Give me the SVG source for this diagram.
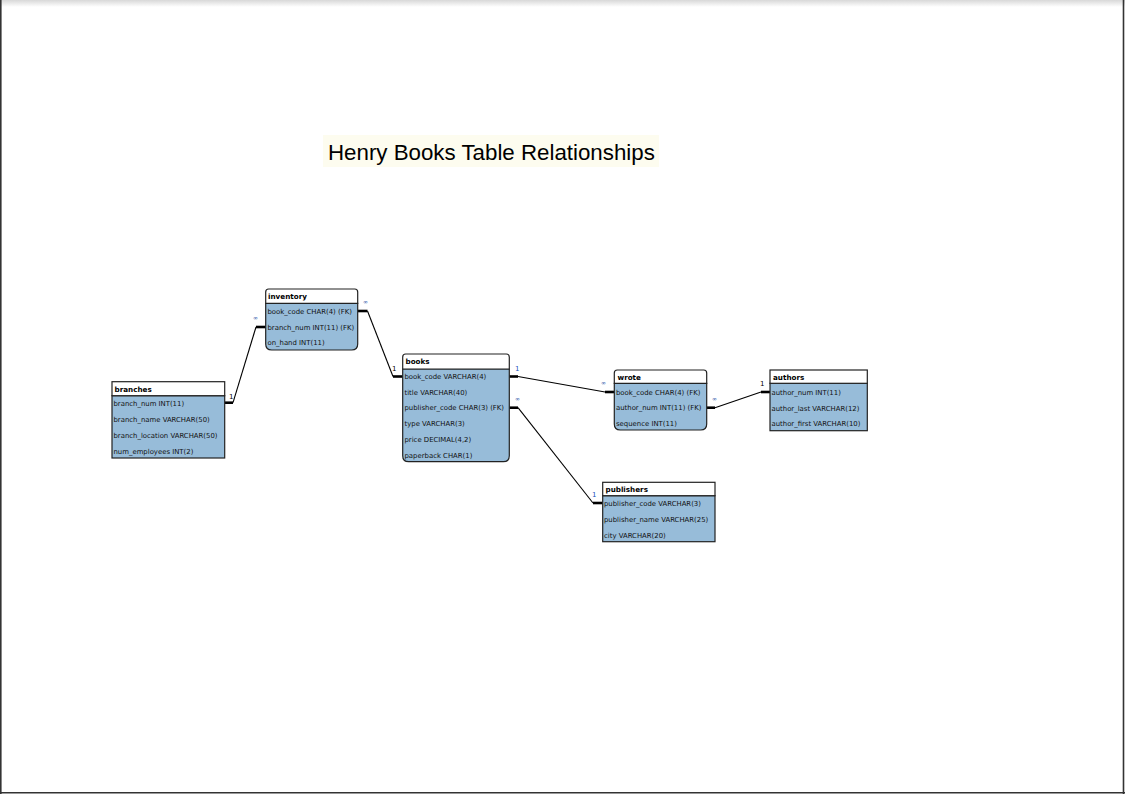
<svg xmlns="http://www.w3.org/2000/svg" width="1125" height="794" viewBox="0 0 1125 794">
<defs>
<linearGradient id="topShadow" x1="0" y1="0" x2="0" y2="1">
<stop offset="0" stop-color="#d8d8d8"/>
<stop offset="1" stop-color="#ffffff"/>
</linearGradient>
<style>
.body{fill:#97bcd9;stroke:#222;stroke-width:1.2}
.head{fill:#fff;stroke:#222;stroke-width:1.2}
.ht{font-family:"DejaVu Sans","Liberation Sans",sans-serif;font-size:7.2px;font-weight:bold;fill:#000}
.rt{font-family:"DejaVu Sans","Liberation Sans",sans-serif;font-size:6.9px;fill:#111}
.stub{stroke:#000;stroke-width:2.6;fill:none}
.ln{stroke:#000;stroke-width:1.1;fill:none}
.card{font-family:"DejaVu Sans","Liberation Sans",sans-serif;font-size:7px;fill:#000}
.cb{fill:#2255bb}
.inf{font-family:"DejaVu Sans","Liberation Sans",sans-serif;font-size:6px;fill:#3355aa}
</style>
</defs>
<rect x="0" y="0" width="1125" height="794" fill="#fff"/>
<rect x="0" y="0" width="1125" height="7" fill="url(#topShadow)"/>
<line x1="0.8" y1="0" x2="0.8" y2="794" stroke="#333" stroke-width="1.6"/>
<line x1="1123.5" y1="0" x2="1123.5" y2="794" stroke="#333" stroke-width="1.6"/>
<line x1="0" y1="792.7" x2="1125" y2="792.7" stroke="#333" stroke-width="1.6"/>

<g id="title">
<rect x="323" y="135" width="336" height="32" fill="#fdfcef"/>
<text x="328" y="160" font-family="Liberation Sans, Arial, sans-serif" font-size="22.3" fill="#000">Henry Books Table Relationships</text>
</g>

<g id="connectors">
<polyline class="stub" points="224.7,402.7 233,402.7"/>
<polyline class="ln" points="233,402.7 256,327"/>
<polyline class="stub" points="256,327 265.7,327"/>
<text class="card" x="229" y="399">1</text>
<text class="inf" x="253" y="320">∞</text>

<polyline class="stub" points="357.7,311 367.5,311"/>
<polyline class="ln" points="367.5,311 393,376.5"/>
<polyline class="stub" points="393,376.5 402.7,376.5"/>
<text class="inf" x="363" y="304">∞</text>
<text class="card" x="392" y="371">1</text>

<polyline class="stub" points="509.3,376.5 518,376.5"/>
<polyline class="ln" points="518,376.5 605,392"/>
<polyline class="stub" points="605,392 614.3,392"/>
<text class="card cb" x="515" y="371">1</text>
<text class="inf" x="601" y="385">∞</text>

<polyline class="stub" points="509.3,407.7 518,407.7"/>
<polyline class="ln" points="518,407.7 593,503"/>
<polyline class="stub" points="593,503 602.7,503"/>
<text class="inf" x="515" y="401">∞</text>
<text class="card cb" x="592" y="497">1</text>

<polyline class="stub" points="706.7,407.7 715,407.7"/>
<polyline class="ln" points="715,407.7 761,392"/>
<polyline class="stub" points="761,392 770,392"/>
<text class="inf" x="712" y="401">∞</text>
<text class="card" x="760" y="386">1</text>
</g>

<g id="inventory">
<path class="body" d="M265.7,303.3 H357.7 V344 Q357.7,350 351.7,350 H271.7 Q265.7,350 265.7,344 Z"/>
<path class="head" d="M265.7,303.3 V292 Q265.7,289 268.7,289 H354.7 Q357.7,289 357.7,292 V303.3 Z"/>
<text class="ht" x="268" y="299">inventory</text>
<text class="rt" x="267.5" y="314">book_code CHAR(4) (FK)</text>
<text class="rt" x="267.5" y="330">branch_num INT(11) (FK)</text>
<text class="rt" x="267.5" y="345">on_hand INT(11)</text>
</g>

<g id="branches">
<rect class="body" x="112" y="395.7" width="112.7" height="62.3"/>
<rect class="head" x="112" y="381.7" width="112.7" height="14"/>
<text class="ht" x="114.5" y="391.5">branches</text>
<text class="rt" x="113.5" y="405.5">branch_num INT(11)</text>
<text class="rt" x="113.5" y="421.5">branch_name VARCHAR(50)</text>
<text class="rt" x="113.5" y="437.5">branch_location VARCHAR(50)</text>
<text class="rt" x="113.5" y="453.5">num_employees INT(2)</text>
</g>

<g id="books">
<path class="body" d="M402.7,369 H509.3 V455.7 Q509.3,461.7 503.3,461.7 H408.7 Q402.7,461.7 402.7,455.7 Z"/>
<path class="head" d="M402.7,369 V357 Q402.7,354 405.7,354 H506.3 Q509.3,354 509.3,357 V369 Z"/>
<text class="ht" x="405.5" y="364">books</text>
<text class="rt" x="404.5" y="379">book_code VARCHAR(4)</text>
<text class="rt" x="404.5" y="394.5">title VARCHAR(40)</text>
<text class="rt" x="404.5" y="410">publisher_code CHAR(3) (FK)</text>
<text class="rt" x="404.5" y="425.7">type VARCHAR(3)</text>
<text class="rt" x="404.5" y="441.5">price DECIMAL(4,2)</text>
<text class="rt" x="404.5" y="457.5">paperback CHAR(1)</text>
</g>

<g id="wrote">
<path class="body" d="M614.3,383.3 H706.7 V424 Q706.7,430 700.7,430 H620.3 Q614.3,430 614.3,424 Z"/>
<path class="head" d="M614.3,383.3 V373 Q614.3,370 617.3,370 H703.7 Q706.7,370 706.7,373 V383.3 Z"/>
<text class="ht" x="617.5" y="379.5">wrote</text>
<text class="rt" x="616" y="394.7">book_code CHAR(4) (FK)</text>
<text class="rt" x="616" y="410.2">author_num INT(11) (FK)</text>
<text class="rt" x="616" y="425.5">sequence INT(11)</text>
</g>

<g id="authors">
<rect class="body" x="770" y="383.3" width="97.3" height="47.4"/>
<rect class="head" x="770" y="370" width="97.3" height="13.3"/>
<text class="ht" x="773" y="379.5">authors</text>
<text class="rt" x="771.5" y="394.5">author_num INT(11)</text>
<text class="rt" x="771.5" y="410.5">author_last VARCHAR(12)</text>
<text class="rt" x="771.5" y="425.5">author_first VARCHAR(10)</text>
</g>

<g id="publishers">
<rect class="body" x="602.7" y="495.7" width="112.3" height="46"/>
<rect class="head" x="602.7" y="482.3" width="112.3" height="13.4"/>
<text class="ht" x="605.5" y="491.5">publishers</text>
<text class="rt" x="604" y="505.5">publisher_code VARCHAR(3)</text>
<text class="rt" x="604" y="521.5">publisher_name VARCHAR(25)</text>
<text class="rt" x="604" y="537.5">city VARCHAR(20)</text>
</g>
</svg>
